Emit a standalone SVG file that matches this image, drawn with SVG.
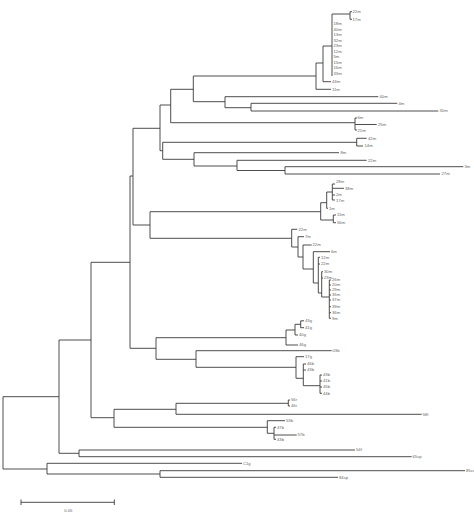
<svg xmlns="http://www.w3.org/2000/svg" width="474" height="513" viewBox="0 0 474 513">
<style>
.e{fill:none;stroke:#3a3a3a;stroke-width:0.9}
.t{font-family:"Liberation Sans",Arial,sans-serif;font-size:4.2px;fill:#666}
</style>
<rect width="474" height="513" fill="#fff"/>
<g id="connectors" class="e">
<path d="M3,396.7V469M3,396.7H59M3,469H47"/>
<path d="M47,463.3V474M47,463.3H242M47,474H160M160,470.7V477.3M160,470.7H465M160,477.3H338"/>
<path d="M59,340V453.3M59,340H91M59,453.3H79M79,450V456.7M79,450H355M79,456.7H411.7"/>
<path d="M91,262.3V417.7M91,262.3H130M91,417.7H114M114,409.3V427.3M114,409.3H176M114,427.3H267.3"/>
<path d="M176,403.3V414.3M176,403.3H288.3M176,414.3H421.7M288.3,400V406M288.3,400H290M288.3,406H290"/>
<path d="M267.3,420.7V433.3M267.3,420.7H285M267.3,433.3H274M274,427.3V439.3M274,427.3H276M274,435H296.7M274,439.3H276"/>
<path d="M130,176V348.3M130,176H133M130,348.3H156M156,337.7V359.3M156,337.7H286M156,359.3H196"/>
<path d="M286,330V345M286,330H295M286,345H298M295,324.3V335M295,324.3H300.7M295,335H298M300.7,320.8V327.7M300.7,320.8H304M300.7,327.7H304"/>
<path d="M196,350.7V367.3M196,350.7H331.7M196,367.3H296M296,356.7V378.3M296,356.7H304M296,378.3H303.3M303.3,364V385.7M303.3,364H306M303.3,370H306M303.3,385.7H320M320,375V393.3M320,375H322M320,381H322M320,387H322M320,393.3H322"/>
<path d="M133,128.3V225M133,128.3H160M133,225H150M150,211.7V238.3M150,211.7H320.7M150,238.3H291.7"/>
<path d="M160,105V150.7M160,105H170.7M160,150.7H162.7M170.7,89.3V122.7M170.7,89.3H193.3M170.7,122.7H355M355,118V130M355,118H357M355,124.5H376.7M355,130H357"/>
<path d="M193.3,76V101.7M193.3,76H316M193.3,101.7H225M225,96.7V107.7M225,96.7H378.3M225,107.7H251M251,103.3V111M251,103.3H397.3M251,111H438.3"/>
<path d="M316,63V89.3M316,63H323M316,89.3H331M323,46V81.7M323,46H332M323,81.7H331M332,14V76M332,14H350M350,11.7V19.3M350,11.7H352M350,19.3H352"/>
<path d="M162.7,142.3V159.3M162.7,142.3H356.7M162.7,159.3H194M356.7,138.3V146M356.7,138.3H366.7M356.7,146H363M194,152.7V166M194,152.7H339M194,166H237M237,160.3V170.5M237,160.3H366.7M237,170.5H285M285,166.7V174M285,166.7H463.3M285,174H440"/>
<path d="M320.7,202.7V220M320.7,202.7H326.7M320.7,220H333.3M333.3,215V222.7M333.3,215H336M333.3,222.7H336M326.7,192V208.3M326.7,192H332.3M326.7,208.3H328M332.3,184V200M332.3,184H335M332.3,188.3H344M332.3,195H335M332.3,200H335"/>
<path d="M291.7,229.3V247M291.7,229.3H297.3M291.7,247H298M298,236.7V257M298,236.7H304M298,257H303M303,245V269M303,245H311.7M303,269H313.3M313.3,251.7V283M313.3,251.7H330M313.3,283H318.3M318.3,257.3V293M318.3,257.3H320M318.3,264H320M318.3,293H321.7M321.7,271.7V297M321.7,271.7H323M321.7,278H323M321.7,297H329.3M329.3,280V318.3M329.3,280H331M329.3,285H331M329.3,290H331M329.3,295H331M329.3,300H331M329.3,306.7H331M329.3,312.7H331M329.3,318.3H331"/>
<path d="M21,502.3H114.3M21,499.5V505M114.3,499.5V505"/>
</g>
<g id="leaves" class="t">
<g id="n1"><text x="352.5" y="13">22m</text></g>
<g id="n2"><text x="352.5" y="20.6">17m</text></g>
<g id="n3"><text x="333.5" y="25.3">18m</text></g>
<g id="n4"><text x="333.5" y="30.8">40m</text></g>
<g id="n5"><text x="333.5" y="36.3">13m</text></g>
<g id="n6"><text x="333.5" y="41.8">32m</text></g>
<g id="n7"><text x="333.5" y="47.3">23m</text></g>
<g id="n8"><text x="333.5" y="52.8">12m</text></g>
<g id="n9"><text x="333.5" y="58.3">5m</text></g>
<g id="n10"><text x="333.5" y="63.8">15m</text></g>
<g id="n11"><text x="333.5" y="69.3">16m</text></g>
<g id="n12"><text x="333.5" y="74.8">33m</text></g>
<g id="n13"><text x="332" y="83">43m</text></g>
<g id="n14"><text x="332" y="90.6">11m</text></g>
<g id="n15"><text x="379.5" y="98">40m</text></g>
<g id="n16"><text x="398.5" y="104.6">4m</text></g>
<g id="n17"><text x="439.5" y="112.3">30m</text></g>
<g id="n18"><text x="357.5" y="119.3">6m</text></g>
<g id="n19"><text x="378" y="125.8">25m</text></g>
<g id="n20"><text x="357.5" y="132.3">21m</text></g>
<g id="n21"><text x="368" y="139.6">42m</text></g>
<g id="n22"><text x="364.5" y="147.3">14m</text></g>
<g id="n23"><text x="340.5" y="154.3">8m</text></g>
<g id="n24"><text x="368" y="161.6">22m</text></g>
<g id="n25"><text x="464.5" y="168">3m</text></g>
<g id="n26"><text x="441.5" y="175.3">27m</text></g>
<g id="n27"><text x="336" y="183">28m</text></g>
<g id="n28"><text x="345" y="189.6">38m</text></g>
<g id="n29"><text x="336" y="196.3">2m</text></g>
<g id="n30"><text x="336" y="202.3">17m</text></g>
<g id="n31"><text x="329" y="209.6">1m</text></g>
<g id="n32"><text x="337" y="216.3">11m</text></g>
<g id="n33"><text x="337" y="224">56m</text></g>
<g id="n34"><text x="298.5" y="230.6">22m</text></g>
<g id="n35"><text x="305" y="238">7m</text></g>
<g id="n36"><text x="312.5" y="246.3">22m</text></g>
<g id="n37"><text x="331" y="253">6m</text></g>
<g id="n38"><text x="321" y="258.6">12m</text></g>
<g id="n39"><text x="321" y="265.3">22m</text></g>
<g id="n40"><text x="324" y="273">30m</text></g>
<g id="n41"><text x="324" y="279.3">23m</text></g>
<g id="n42"><text x="332" y="281.3">26m</text></g>
<g id="n43"><text x="332" y="286.3">20m</text></g>
<g id="n44"><text x="332" y="291.3">29m</text></g>
<g id="n45"><text x="332" y="296.3">35m</text></g>
<g id="n46"><text x="332" y="301.3">37m</text></g>
<g id="n47"><text x="332" y="308">39m</text></g>
<g id="n48"><text x="332" y="314">36m</text></g>
<g id="n49"><text x="332" y="319.6">9m</text></g>
<g id="n50"><text x="305" y="322.1">43g</text></g>
<g id="n51"><text x="305" y="329">41g</text></g>
<g id="n52"><text x="299" y="336.3">40g</text></g>
<g id="n53"><text x="299" y="346.3">46g</text></g>
<g id="n54"><text x="332.5" y="352">03b</text></g>
<g id="n55"><text x="305" y="358">17g</text></g>
<g id="n56"><text x="307" y="365.3">46b</text></g>
<g id="n57"><text x="307" y="371.3">43b</text></g>
<g id="n58"><text x="323" y="376.3">43b</text></g>
<g id="n59"><text x="323" y="382.3">41b</text></g>
<g id="n60"><text x="323" y="388.3">45b</text></g>
<g id="n61"><text x="323" y="394.6">44b</text></g>
<g id="n62"><text x="291" y="401.3">56r</text></g>
<g id="n63"><text x="291" y="407.3">46r</text></g>
<g id="n64"><text x="422.5" y="415.6">58f</text></g>
<g id="n65"><text x="286" y="422">53b</text></g>
<g id="n66"><text x="277" y="428.6">47b</text></g>
<g id="n67"><text x="297.5" y="436.3">57b</text></g>
<g id="n68"><text x="277" y="440.6">43b</text></g>
<g id="n69"><text x="356" y="451.3">54f</text></g>
<g id="n70"><text x="412.5" y="458">65sp</text></g>
<g id="n71"><text x="243" y="464.6">C1g</text></g>
<g id="n72"><text x="466" y="472">85cc</text></g>
<g id="n73"><text x="339" y="478.6">84sp</text></g>
</g>
<g id="scale" class="t"><text x="68.3" y="512" text-anchor="middle">0.05</text></g>
</svg>
